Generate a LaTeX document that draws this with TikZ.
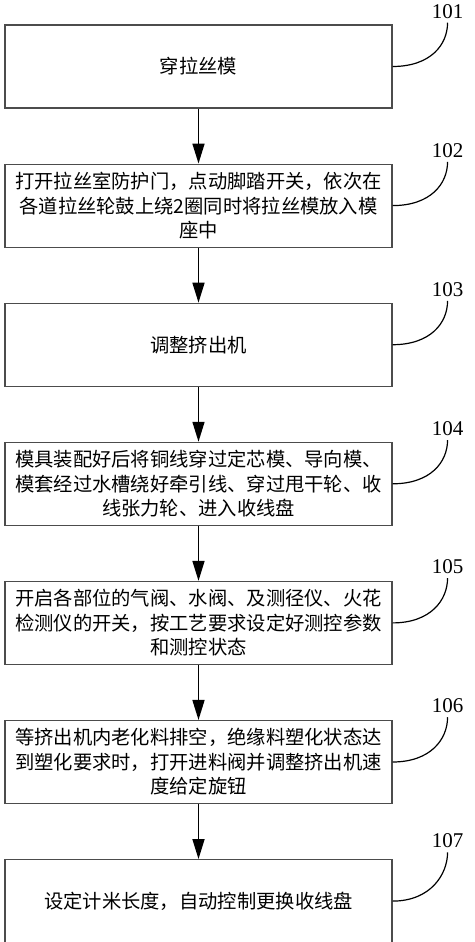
\documentclass[tikz,border=0pt]{standalone}
\usepackage{fontspec}
\setmainfont{Liberation Serif}
\newfontfamily\cjk{Noto Sans CJK SC}
\usepackage{tikz}
\usetikzlibrary{arrows.meta,positioning,calc}
\tikzset{
  stepbox/.style={draw=black!70, line width=1.1pt, align=center,
                  minimum width=387pt, minimum height=83pt, inner sep=0pt,
                  font=\cjk\fontsize{19.3}{24.5}\selectfont},
  numlabel/.style={font=\fontsize{21}{21}\selectfont, inner sep=4pt},
  arr/.style    ={-{Triangle[length=20pt,width=12pt]}, line width=1.6pt},
  lead/.style   ={line width=1.2pt},
}

\begin{document}
\begin{tikzpicture}[node distance=55pt]
  \useasboundingbox (0,0) rectangle (474pt,-942pt);

  \node[stepbox] (s1) at (198.5pt,-66.5pt) {穿拉丝模};
  \node[stepbox, below=of s1] (s2)
        {打开拉丝室防护门，点动脚踏开关，依次在\\
         各道拉丝轮鼓上绕2圈同时将拉丝模放入模\\
         座中};
  \node[stepbox, below=of s2] (s3) {调整挤出机};
  \node[stepbox, below=of s3] (s4)
        {模具装配好后将铜线穿过定芯模、导向模、\\
         模套经过水槽绕好牵引线、穿过甩干轮、收\\
         线张力轮、进入收线盘};
  \node[stepbox, below=of s4] (s5)
        {开启各部位的气阀、水阀、及测径仪、火花\\
         检测仪的开关，按工艺要求设定好测控参数\\
         和测控状态};
  \node[stepbox, below=of s5] (s6)
        {等挤出机内老化料排空，绝缘料塑化状态达\\
         到塑化要求时，打开进料阀并调整挤出机速\\
         度给定旋钮};
  \node[stepbox, below=of s6] (s7) {设定计米长度，自动控制更换收线盘};

  \node[numlabel] (n1) at ($(s1.north east)+(55pt,13pt)$) {101};
  \node[numlabel] (n2) at ($(s2.north east)+(55pt,13pt)$) {102};
  \node[numlabel] (n3) at ($(s3.north east)+(55pt,13pt)$) {103};
  \node[numlabel] (n4) at ($(s4.north east)+(55pt,13pt)$) {104};
  \node[numlabel] (n5) at ($(s5.north east)+(55pt,14pt)$) {105};
  \node[numlabel] (n6) at ($(s6.north east)+(55pt,14pt)$) {106};
  \node[numlabel] (n7) at ($(s7.north east)+(55pt,18pt)$) {107};

  \draw[arr] (s1) -- (s2);
  \draw[arr] (s2) -- (s3);
  \draw[arr] (s3) -- (s4);
  \draw[arr] (s4) -- (s5);
  \draw[arr] (s5) -- (s6);
  \draw[arr] (s6) -- (s7);

  \draw[lead] (s1.east) .. controls +(38pt,0) and +(0,-22pt) .. (n1.south);
  \draw[lead] (s2.east) .. controls +(38pt,0) and +(0,-22pt) .. (n2.south);
  \draw[lead] (s3.east) .. controls +(38pt,0) and +(0,-22pt) .. (n3.south);
  \draw[lead] (s4.east) .. controls +(38pt,0) and +(0,-22pt) .. (n4.south);
  \draw[lead] (s5.east) .. controls +(38pt,0) and +(0,-22pt) .. (n5.south);
  \draw[lead] (s6.east) .. controls +(38pt,0) and +(0,-22pt) .. (n6.south);
  \draw[lead] (s7.east) .. controls +(38pt,0) and +(0,-22pt) .. (n7.south);
\end{tikzpicture}
\end{document}
